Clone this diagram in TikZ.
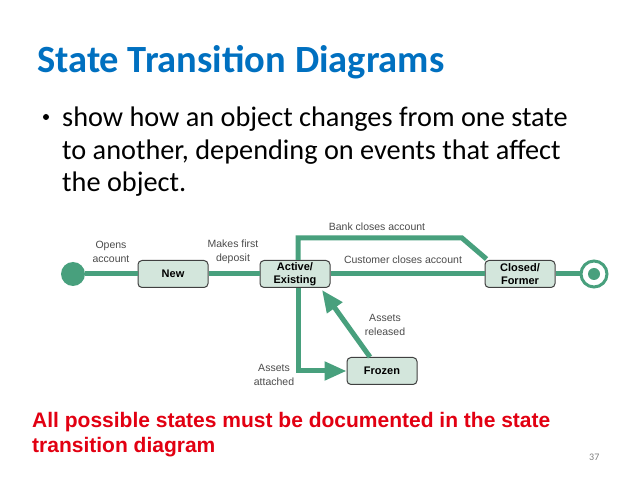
\documentclass[tikz,border=0pt]{standalone}
\usepackage{fontspec}
\setmainfont{Carlito}
\newfontfamily\arialfont{Liberation Sans}
\usetikzlibrary{arrows.meta,positioning,calc}
\definecolor{titleblue}{RGB}{0,112,192}
\definecolor{alertred}{RGB}{226,0,18}
\definecolor{flow}{RGB}{72,160,125}
\definecolor{statefill}{RGB}{211,230,220}
\definecolor{labelgray}{RGB}{75,75,75}
\tikzstyle{state}=[draw=black!75, fill=statefill, rounded corners=4pt, line width=1pt, minimum width=70pt, minimum height=27pt, inner sep=1pt, align=center, font=\arialfont\bfseries\fontsize{11}{12.5}\selectfont]
\tikzstyle{line}=[draw=flow, line width=5pt]
\tikzstyle{event}=[inner sep=0pt, align=center, text=labelgray, font=\arialfont\fontsize{10.5}{14.5}\selectfont]
\tikzstyle{bigarrow}=[-{Triangle[length=22pt,width=18pt]}]

\begin{document}
\begin{tikzpicture}[x=1pt, y=-1pt]
  \def\xmax{638}
  \def\ymax{478}
  \def\yline{274}

  \fill[white] (0,0) rectangle (\xmax,\ymax);
  \useasboundingbox (0,0) rectangle (\xmax,\ymax);

  % heading and bullet (base = last line)
  \node[anchor=base west, inner sep=0pt, text=titleblue, font=\bfseries\fontsize{38.5}{40}\selectfont] (title) at (37,73) {State Transition Diagrams};
  \node[circle, fill=black, minimum size=6pt, inner sep=0pt] (dot) at (46,117) {};
  \node[anchor=base west, inner sep=0pt, align=left, font=\fontsize{28.3}{32.5}\selectfont] (bullet) at (62,192) {show how an object changes from one state\\to another, depending on events that affect\\the object.};

  % states
  \node[circle, fill=flow, minimum size=24pt, inner sep=0pt] (start) at (73,\yline) {};
  \node[state] (new) at (173,\yline) {New};
  \node[state] (active) at (295,\yline) {Active/\\Existing};
  \node[state] (closed) at (520,\yline) {Closed/\\Former};
  \node[state] (frozen) at (382,371) {Frozen};
  \node[circle, draw=flow, line width=3pt, fill=white, minimum size=26pt, inner sep=0pt] (final) at (594,\yline) {};
  \node[circle, fill=flow, minimum size=12pt, inner sep=0pt] (finaldot) at (final) {};

  % transitions
  \coordinate (bank) at (462,238);
  \path[line] (start) -- (new);
  \path[line] (new) -- (active);
  \path[line] (active) -- (closed);
  \path[line] (closed) -- (final);
  \path[line] ([xshift=3pt]active.north) |- (bank) -- ([xshift=2pt,yshift=1pt]closed.north west);
  \path[line, bigarrow] ([xshift=3pt]active.south) |- (frozen.west);
  \path[line, bigarrow] ([xshift=-12pt]frozen.north) -- ([xshift=27pt,yshift=-2pt]active.south);

  %labels
  \node[event] (opens) at (111,252) {Opens\\account};
  \node[event] (deposit) at (233,252) {Makes first\\deposit};
  \node[event] (bankcl) at (377,227) {Bank closes account};
  \node[event] (custcl) at (403,260) {Customer closes account};
  \node[event] (released) at (385,325) {Assets\\released};
  \node[event] (attached) at (274,375) {Assets\\attached};

  % note and page number
  \node[anchor=base west, inner sep=0pt, align=left, text=alertred, font=\arialfont\bfseries\fontsize{21}{25}\selectfont] (note) at (32,453) {All possible states must be documented in the state\\transition diagram};
  \node[anchor=base west, inner sep=0pt, text=gray, font=\fontsize{10}{12}\selectfont] (page) at (589,461) {37};
\end{tikzpicture}
\end{document}
